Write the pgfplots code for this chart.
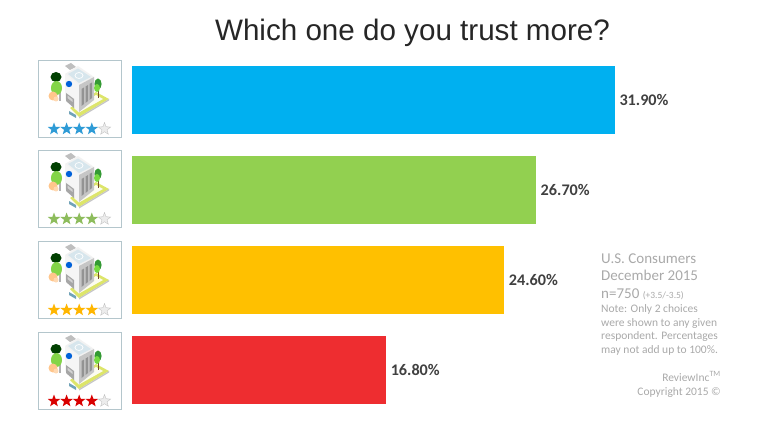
\documentclass[border=0pt]{standalone}
\usepackage{pgfplots}
\pgfplotsset{compat=1.18}
\usepackage{fontspec}
\setmainfont{Carlito}
\newfontfamily\titlefont{Liberation Sans}
\usetikzlibrary{shapes.geometric}
\definecolor{cblue}{HTML}{00B0F0}
\definecolor{cgreen}{HTML}{92D050}
\definecolor{cyellow}{HTML}{FFC000}
\definecolor{cred}{HTML}{EE2D30}
\definecolor{note}{HTML}{A9A9A9}
\definecolor{boxc}{HTML}{B4C6CC}
\definecolor{gr}{HTML}{DDE56A}
\definecolor{starblue}{HTML}{2E9BD6}
\newcommand{\icon}[3]{%
\begin{scope}[shift={(#1,#2)},x=1pt,y=-1pt]
\draw[color=boxc,line width=0.8pt,fill=white] (38,60) rectangle (121,137);
% ground
\fill[gr] (70,108) -- (96,92) -- (109,99) -- (79,117) -- cycle;
\fill[white!90!gr] (74,108) -- (96,95) -- (103,99) -- (79,112.5) -- cycle;
\fill[gray!45] (79,117) -- (109,99) -- (109,100.5) -- (79,118.5) -- cycle;
\fill[cyan!40!gray] (69,111) -- (76,115) -- (76,118) -- (69,114) -- cycle;
% right tree
\fill[brown!60!black] (97.5,90) rectangle (99,98);
\fill[green!50!black!80!white] (98,84) ellipse (3.6 and 5.5);
\fill[cgreen!80!green] (97,88) ellipse (3 and 4);
% left trees
\fill[gray!60] (59,84) rectangle (61,101);
\fill[black!75!green] (56,77) ellipse (5.5 and 5);
\fill[cgreen!90!green] (56.5,88) ellipse (5.5 and 7);
\fill[orange!45!white] (53,96) circle (4.5);
\fill[orange!30!white] (56,99) circle (2.5);
% building
\fill[gray!50] (65,66) -- (71,63) -- (76,67) -- (70,70) -- cycle;
\fill[white!90!gray] (65,74) -- (78,66) -- (94,77) -- (79,85) -- cycle;
\fill[gray!60!cyan!25!white] (68,74) -- (78,68.5) -- (91,77) -- (79,83) -- cycle;
\draw[white,line width=0.7pt] (79,75.5) ellipse (4 and 3);
\fill[white!92!gray] (65,74) -- (79,85) -- (79,112) -- (65,99) -- cycle;
\fill[gray!45] (79,85) -- (94,77) -- (94,100) -- (79,112) -- cycle;
\fill[gray!85] (81.5,89) -- (84,87.5) -- (84,104) -- (81.5,106) -- cycle;
\fill[gray!85] (85.5,86.5) -- (88,85) -- (88,101) -- (85.5,103) -- cycle;
\fill[gray!85] (89.5,84) -- (92,82.5) -- (92,98) -- (89.5,100) -- cycle;
\fill[blue!55!cyan!85!black] (69,84) circle (3.2);
\fill[gray!70] (66,93) -- (74,99) -- (74,108) -- (66,101) -- cycle;
\fill[gray!35] (67.5,95.5) -- (72.5,99.5) -- (72.5,102) -- (67.5,98) -- cycle;
\foreach \k in {0,1,2,3} {
\node[star,star points=5,star point ratio=2.4,inner sep=0pt,minimum size=13pt,fill=#3] at (54+\k*12.6,129) {};
}
\node[star,star points=5,star point ratio=2.4,inner sep=0pt,minimum size=13pt,fill=white!85!gray,draw=gray!55,line width=0.3pt] at (104.5,129) {};
\end{scope}}
\begin{document}
\begin{tikzpicture}[x=1pt,y=1pt]
\begin{axis}[
  at={(0pt,0pt)},anchor=south west,
  width=768pt,height=429pt,scale only axis,
  axis lines=none,
  xmin=-8.68,xmax=42.01,
  ymin=-1.111,ymax=3.656,y dir=reverse,
  clip=false,
  xbar,bar width=68pt,bar shift=0pt,
  nodes near coords={\pgfmathprintnumber[fixed,fixed zerofill,precision=2,assume math mode=true]{\pgfplotspointmeta}\%},
  point meta=x,
  every node near coord/.append style={font=\fontsize{16.2}{18}\selectfont\bfseries,text=black!75,anchor=west,inner sep=0pt,xshift=4.5pt},
]
\addplot[fill=cblue,draw=none] coordinates {(31.9,0)};
\addplot[fill=cgreen,draw=none] coordinates {(26.7,1)};
\addplot[fill=cyellow,draw=none] coordinates {(24.6,2)};
\addplot[fill=cred,draw=none] coordinates {(16.8,3)};
\end{axis}
\path[use as bounding box] (0,0) rectangle (768,429);
\node[font=\titlefont\fontsize{29.6}{36}\selectfont,text=black!85,anchor=base] at (412.5,429-41) {Which one do you trust more?};
\icon{0}{429}{starblue}
\icon{0}{339}{cgreen!75!gray}
\icon{0}{248}{cyellow!85!orange}
\icon{0}{157}{red!85!black}
\begin{scope}[every node/.style={anchor=base west,inner sep=0pt,text=note}]
\node[font=\fontsize{15}{18}\selectfont] at (601,429-263) {U.S. Consumers};
\node[font=\fontsize{15}{18}\selectfont] at (601,429-280) {December 2015};
\node[font=\fontsize{15}{18}\selectfont] at (601,429-298) {n=750 {\fontsize{9.5}{11}\selectfont(+3.5/-3.5)}};
\node[font=\fontsize{11.5}{14}\selectfont] at (601,429-312) {Note: Only 2 choices};
\node[font=\fontsize{11.5}{14}\selectfont] at (601,429-326) {were shown to any given};
\node[font=\fontsize{11.5}{14}\selectfont] at (601,429-339) {respondent. Percentages};
\node[font=\fontsize{11.5}{14}\selectfont] at (601,429-353) {may not add up to 100\%.};
\node[anchor=base east,font=\fontsize{11.5}{14}\selectfont] at (721,429-381) {ReviewInc\textsuperscript{TM}};
\node[anchor=base east,font=\fontsize{11.5}{14}\selectfont] at (721,429-395) {Copyright 2015 \symbol{"00A9}};
\end{scope}
\end{tikzpicture}
\end{document}
